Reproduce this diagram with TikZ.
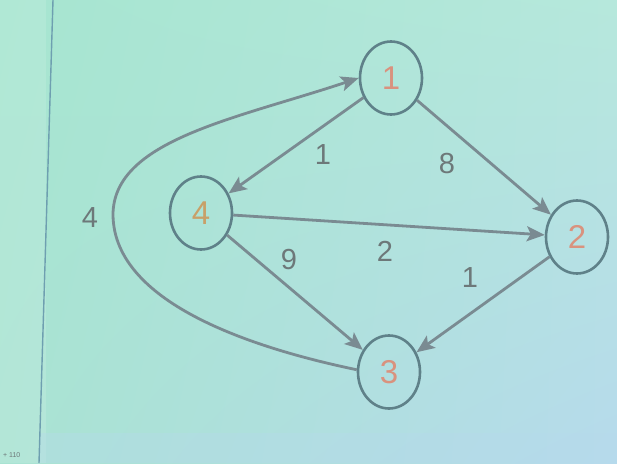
\documentclass[tikz,border=0pt]{standalone}
\usepackage{fontspec}
\setmainfont{Liberation Sans}
\usetikzlibrary{arrows.meta,shapes.geometric,shadings}
\definecolor{bgul}{HTML}{A6E5D0}
\definecolor{bgur}{HTML}{B6E8DC}
\definecolor{bgll}{HTML}{A9E3D2}
\definecolor{bglr}{HTML}{B6DAEC}
\definecolor{ringcol}{HTML}{5F8189}
\definecolor{edgecol}{HTML}{7A8B92}
\definecolor{wcol}{HTML}{6D7879}
\definecolor{numA}{HTML}{D9927E}
\definecolor{numB}{HTML}{C8A068}
\definecolor{sidecol}{HTML}{6E9FB0}
\begin{document}
\begin{tikzpicture}[x=1pt,y=-1pt,
  vertex/.style={ellipse,draw=ringcol,line width=2.6pt,minimum width=62pt,minimum height=73pt,inner sep=0pt,
    font=\fontsize{33}{33}\selectfont,text=numA},
  edge/.style={draw=edgecol,line width=2.8pt,-{Stealth[length=18pt,width=15pt,inset=4pt]}},
  wlabel/.style={font=\fontsize{29}{29}\selectfont,text=wcol,inner sep=0pt}]
\useasboundingbox (0,0) rectangle (617,463);
\shade[upper left=bgul,upper right=bgur,lower left=bgll,lower right=bglr] (0,0) rectangle (617,463);
\fill[white,opacity=0.12] (0,0) rectangle (46,463);
\fill[bglr,opacity=0.35] (40,433) rectangle (617,463);
\draw[sidecol,line width=1.4pt] (53,0) -- (39,463);
\node[font=\fontsize{7}{7}\selectfont,text=wcol,anchor=west,inner sep=0pt] (zoomtxt) at (3,455) {+ 110};

\node[vertex] (n1) at (391,78) {1};
\node[vertex] (n2) at (577,237) {2};
\node[vertex] (n3) at (389,372) {3};
\node[vertex,text=numB] (n4) at (201,213) {4};
\coordinate (L) at (113,215);

\draw[edge] (n1) -- (n4);
\draw[edge] (n1) -- (n2);
\draw[edge] (n4) -- (n2);
\draw[edge] (n4) -- (n3);
\draw[edge] (n2) -- (n3);
\draw[edge] (n3.176) .. controls (262,350) and (114,306) .. (L)
  .. controls (113,140) and (236,119) .. (n1.west);

\node[wlabel] (w14) at (323,155) {1};
\node[wlabel] (w12) at (447,164) {8};
\node[wlabel] (w31) at (90,218) {4};
\node[wlabel] (w42) at (385,251) {2};
\node[wlabel] (w43) at (289,260) {9};
\node[wlabel] (w23) at (470,278) {1};
\end{tikzpicture}
\end{document}
